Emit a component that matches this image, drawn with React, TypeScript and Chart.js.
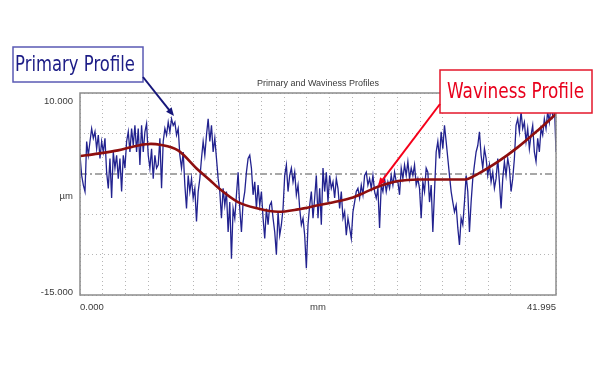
import React, { useEffect, useRef } from "react";
import { Chart, registerables } from "chart.js";

Chart.register(...registerables);

const TITLE = "Primary and Waviness Profiles";
const X_UNIT = "mm";
const Y_UNIT = "µm";
const X_MIN = 0;
const X_MAX = 41.995;
const Y_MIN = -15;
const Y_MAX = 10;
const X_STEP = 2;
const Y_STEP = 5;
const X_TICK_LABELS = ["0.000", "41.995"];
const Y_TICK_LABELS = ["10.000", "-15.000"];
const PRIMARY_LABEL = "Primary Profile";
const WAVINESS_LABEL = "Waviness Profile";

// Primary profile, sampled evenly from 0 to 41.995 mm (µm)
const PRIMARY_VALUES = [
  2.3, -0.2, -1.4, -2.2, 4.0, 2.3, 4.0, 5.6, 4.4, 5.2, 3.1, 4.8, 1.9, 4.0, 2.7, 4.4,
  0.2, -1.8, 1.9, -3.0, 2.7, 0.7, 2.3, -0.6, 1.9, -2.2, 2.3, 0.7, 4.0, 5.2, 2.7, 5.6,
  3.5, 6.0, 2.7, 5.6, 1.1, 6.0, 2.7, 5.2, 6.2, 2.3, 0.7, 3.1, -0.6, 2.3, 0.7,
  1.1, 4.4, -1.8, 4.0, 5.6, 4.8, 6.4, 5.2, 6.8, 6.0, 6.4, 4.8, 5.6, 2.3, 0.7, 2.7,
  -1.4, -4.3, -0.2, -2.2, -0.6, -3.0, -1.8, -5.9, -2.2, -0.6, 1.9, 4.0, 2.3, 4.8, 6.8, 4.0,
  6.0, 2.7, 4.4, 1.9, -0.6, -2.2, -5.5, -1.8, -3.9, -2.2, -7.2, -3.5, -10.5, -4.3, -5.5, -2.6,
  0.2, -4.3, -7.2, -3.5, -2.2, 0.2, 1.9, 2.3, 0.7, -2.6, -1.0, -4.3, -1.4, -3.9, -2.2, -5.5,
  -8.0, -4.3, -6.3, -3.9, -3.5, -5.5, -7.2, -10.0, -4.7, -7.6, -6.3, -4.3, -0.2, 1.1, -2.2, -0.2,
  0.7, -1.0, 0.2, -2.6, -1.4, -4.3, -6.3, -5.5, -7.6, -11.7, -6.3, -3.9, -2.2, -5.5, -3.0, -0.2,
  -5.5, -1.8, -6.3, 0.7, -2.2, 0.2, -3.5, -0.2, -1.8, -1.0, -3.0, -0.6, -1.8, -4.3, -2.2, -5.5,
  -4.7, -7.6, -5.5, -6.7, -8.0, -4.7, -3.5, -2.2, -1.8, -3.0, -1.4, -2.6, -0.2, 0.2, -1.4, -0.6,
  -1.8, -0.2, -2.2, -3.0, -1.8, -6.7, -1.4, -2.2, -0.6, -2.2, -1.0, -1.8, -0.2, -1.4, 0.2, -1.0,
  -1.0, -2.6, 0.7, -0.6, 1.1, -0.2, 1.5, -0.6, 0.7, -0.2, 1.1, -1.4, -0.6, -1.8, -5.5, -1.0,
  -2.2, 0.7, 0.2, -3.5, -1.4, -7.2, -2.2, 2.7, 4.0, 1.9, 5.2, 3.1, 6.0, 4.0, 1.9, -0.2,
  -2.2, -3.5, -4.7, -3.9, -6.7, -8.8, -5.5, -6.3, -3.5, -0.2, -2.2, -7.2, -3.5, -0.6, 1.1, 2.7,
  3.5, 5.2, 2.3, 0.7, 3.1, 1.9, -0.2, 1.1, -1.0, 0.2, -1.8, -0.6, 1.9, -1.0, -4.3, -0.6,
  1.5, -0.2, 1.9, 0.7, -2.2, -0.6, 1.9, 6.0, 6.8, 5.2, 7.7, 5.6, 6.4, 4.0, 5.6, 3.1,
  4.8, 6.0, 2.7, 1.5, 4.4, 2.7, 5.6, 4.8, 6.8, 5.6, 7.7, 6.4, 8.5, 7.2, 8.9, 2.7,
];

// Waviness profile control points
const WAVINESS_X = [
  0, 1.59, 3.35, 5.12, 6.26, 7.06, 8.65, 10.41, 11.47, 12.17, 13.94, 15.7, 17.47, 19.23,
  21.0, 22.76, 23.91, 25.14, 26.29, 28.05, 29.82, 31.76, 33.96, 35.11, 36.88, 38.64, 40.41, 41.995,
];
const WAVINESS_Y = [
  2.2, 2.5, 2.9, 3.5, 3.7, 3.6, 2.9, 0.5, -0.8, -1.7, -3.5, -4.3, -4.7, -4.4,
  -3.9, -3.4, -3.0, -2.3, -1.6, -0.9, -0.7, -0.7, -0.7, 0.0, 1.5, 3.3, 5.4, 7.4,
];

const PRIMARY_COLOR = "#22228f";
const WAVINESS_COLOR = "#8e0f0f";
const AXIS_TEXT = "#3a3a3a";
const LABEL_FONT = "'Liberation Sans', Arial, sans-serif";
const NOTE_FONT = "'DejaVu Sans', Verdana, sans-serif";

function drawNote(
  ctx: CanvasRenderingContext2D,
  text: string,
  x: number,
  yMid: number,
  width: number,
  size: number,
  color: string
) {
  ctx.save();
  ctx.font = `${size}px ${NOTE_FONT}`;
  const w = ctx.measureText(text).width;
  const sx = width / w;
  ctx.translate(x, yMid);
  ctx.scale(sx, 1);
  ctx.fillStyle = color;
  ctx.textAlign = "left";
  ctx.textBaseline = "middle";
  ctx.fillText(text, 0, 0);
  ctx.restore();
}

function arrow(ctx: CanvasRenderingContext2D, x1: number, y1: number, x2: number, y2: number, color: string) {
  const ang = Math.atan2(y2 - y1, x2 - x1);
  const head = 9;
  ctx.strokeStyle = color;
  ctx.fillStyle = color;
  ctx.lineWidth = 2;
  ctx.beginPath();
  ctx.moveTo(x1, y1);
  ctx.lineTo(x2 - Math.cos(ang) * head * 0.7, y2 - Math.sin(ang) * head * 0.7);
  ctx.stroke();
  ctx.beginPath();
  ctx.moveTo(x2, y2);
  ctx.lineTo(x2 - head * Math.cos(ang - 0.4), y2 - head * Math.sin(ang - 0.4));
  ctx.lineTo(x2 - head * Math.cos(ang + 0.4), y2 - head * Math.sin(ang + 0.4));
  ctx.closePath();
  ctx.fill();
}

const overlayPlugin = {
  id: "overlay",
  afterDraw(chart: any) {
    const { ctx, chartArea: a } = chart;
    ctx.save();
    // plot frame
    ctx.strokeStyle = "#8c8c8c";
    ctx.lineWidth = 1.5;
    ctx.setLineDash([]);
    ctx.strokeRect(a.left, a.top, a.right - a.left, a.bottom - a.top);

    // axis texts
    ctx.fillStyle = AXIS_TEXT;
    ctx.font = `9.5px ${LABEL_FONT}`;
    ctx.textBaseline = "middle";
    ctx.textAlign = "right";
    ctx.fillText(Y_TICK_LABELS[0], a.left - 7, a.top + 8);
    ctx.fillText(Y_TICK_LABELS[1], a.left - 7, a.bottom - 3);
    ctx.fillText(Y_UNIT, a.left - 7, (a.top + a.bottom) / 2 + 2);
    ctx.textAlign = "left";
    ctx.fillText(X_TICK_LABELS[0], a.left, a.bottom + 12);
    ctx.textAlign = "right";
    ctx.fillText(X_TICK_LABELS[1], a.right, a.bottom + 12);
    ctx.textAlign = "center";
    ctx.fillText(X_UNIT, (a.left + a.right) / 2, a.bottom + 12);
    ctx.font = `9px ${LABEL_FONT}`;
    ctx.fillText(TITLE, (a.left + a.right) / 2, a.top - 9);

    // Primary Profile note
    ctx.fillStyle = "#ffffff";
    ctx.fillRect(13, 47, 130, 35);
    ctx.strokeStyle = "#5a5ab4";
    ctx.lineWidth = 1.5;
    ctx.strokeRect(13, 47, 130, 35);
    drawNote(ctx, PRIMARY_LABEL, 15, 66, 120, 21, "#1c1c86");
    arrow(ctx, 143, 77, 174, 116, "#16167a");

    // Waviness Profile note
    ctx.fillStyle = "#ffffff";
    ctx.fillRect(440, 70, 152, 43);
    ctx.strokeStyle = "#e4172b";
    ctx.lineWidth = 1.5;
    ctx.strokeRect(440, 70, 152, 43);
    drawNote(ctx, WAVINESS_LABEL, 447, 92, 137, 22, "#e8001c");
    arrow(ctx, 440, 104, 378, 186, "#f5001a");
    ctx.restore();
  },
};

export default function App() {
  const ref = useRef<HTMLCanvasElement | null>(null);
  useEffect(() => {
    document.body.style.margin = "0";
    const canvas = ref.current;
    if (!canvas) return;
    const n = PRIMARY_VALUES.length;
    const primary = PRIMARY_VALUES.map((v, i) => ({ x: (X_MAX * i) / (n - 1), y: v }));
    const waviness = WAVINESS_X.map((x, i) => ({ x, y: WAVINESS_Y[i] }));
    const chart = new Chart(canvas, {
      type: "line",
      data: {
        datasets: [
          {
            label: WAVINESS_LABEL,
            data: waviness,
            borderColor: WAVINESS_COLOR,
            borderWidth: 2.6,
            pointRadius: 0,
            cubicInterpolationMode: "monotone",
            order: 0,
          },
          {
            label: PRIMARY_LABEL,
            data: primary,
            borderColor: PRIMARY_COLOR,
            borderWidth: 1.3,
            pointRadius: 0,
            tension: 0,
            order: 1,
          },
        ],
      },
      options: {
        animation: false,
        responsive: false,
        devicePixelRatio: 1,
        layout: { padding: { left: 80, top: 93, right: 44, bottom: 76 } },
        plugins: { legend: { display: false }, tooltip: { enabled: false }, title: { display: false } },
        scales: {
          x: {
            type: "linear",
            min: X_MIN,
            max: X_MAX,
            ticks: { display: false, stepSize: X_STEP },
            grid: { color: "#b5b5b5", lineWidth: 1, drawTicks: false },
            border: { display: false, dash: [1, 3] },
          },
          y: {
            type: "linear",
            min: Y_MIN,
            max: Y_MAX,
            ticks: { display: false, stepSize: Y_STEP },
            grid: {
              color: (c: any) => (c.tick && c.tick.value === 0 ? "#a8a8a8" : "#b5b5b5"),
              lineWidth: (c: any) => (c.tick && c.tick.value === 0 ? 2 : 1),
              drawTicks: false,
            },
            border: {
              display: false,
              dash: (c: any) => (c.tick && c.tick.value === 0 ? [7, 3, 2, 3] : [1, 3]),
            },
          },
        },
      },
      plugins: [overlayPlugin],
    });
    return () => chart.destroy();
  }, []);
  return (
    <div style={{ position: "absolute", left: 0, top: 0, width: 600, height: 371, background: "#fff" }}>
      <canvas ref={ref} width={600} height={371} />
    </div>
  );
}
